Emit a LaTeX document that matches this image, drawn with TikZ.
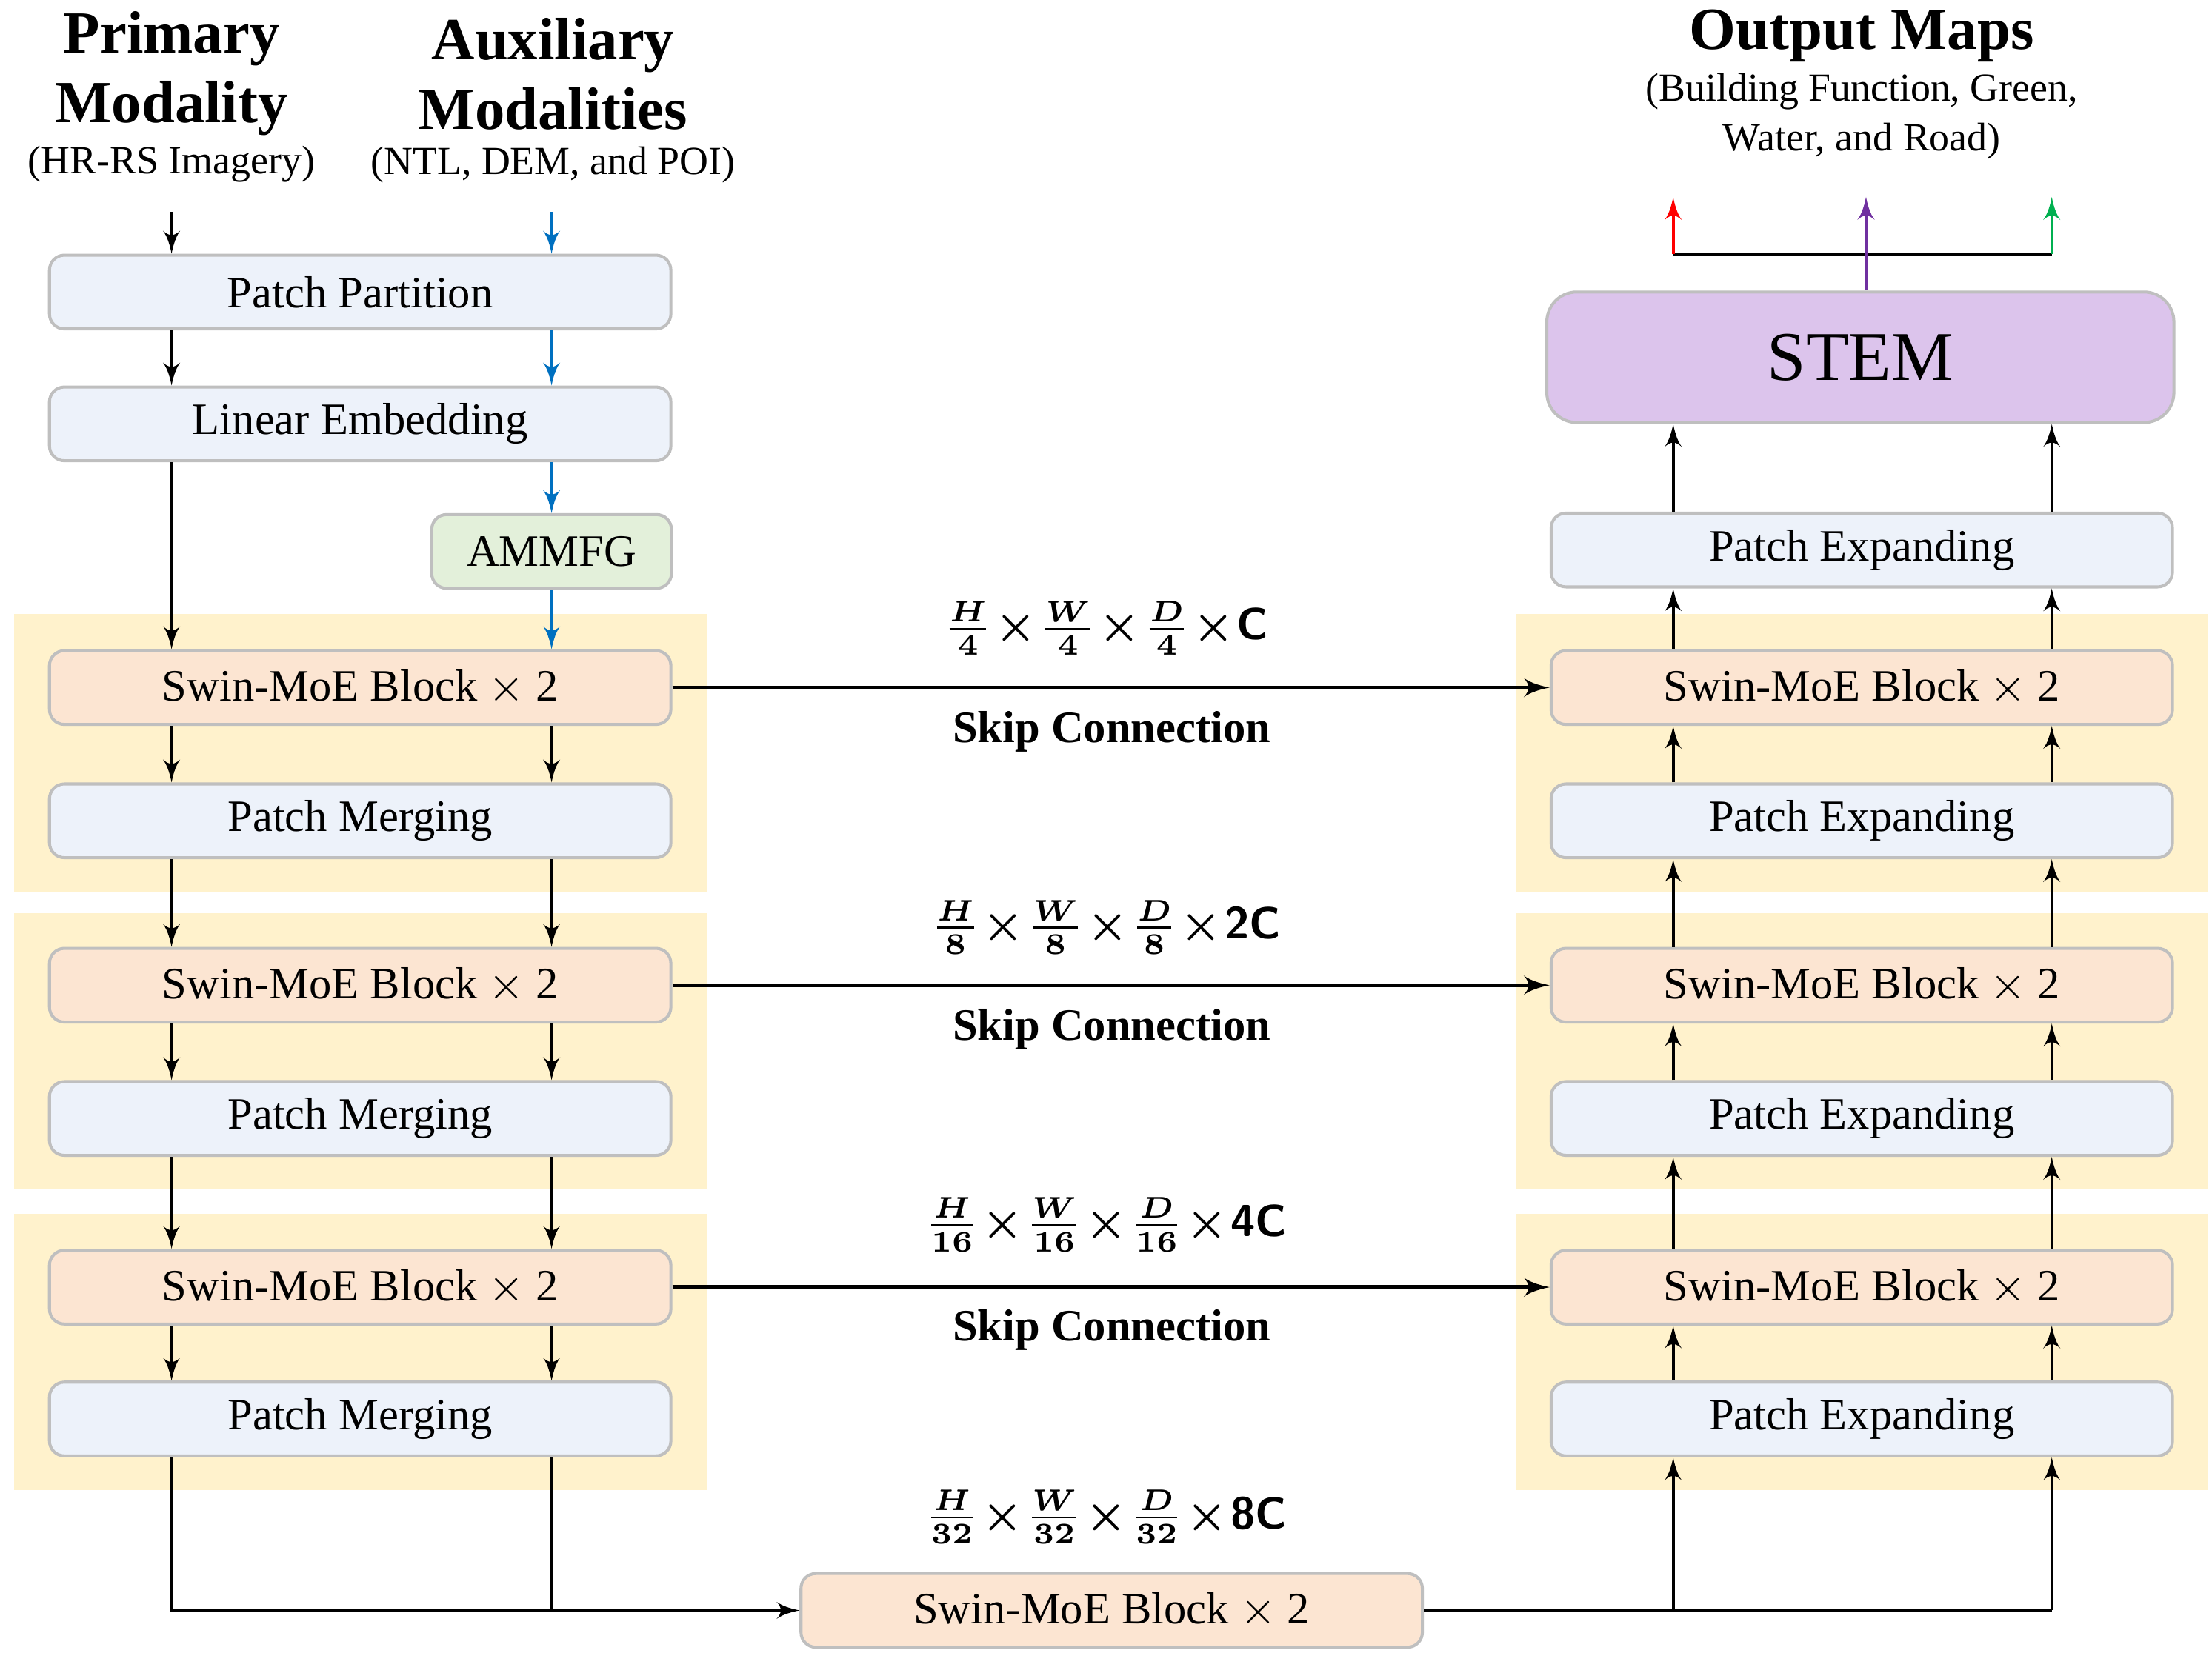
\documentclass[tikz,border=0pt]{standalone}
\usepackage{fontspec}
\setmainfont{Liberation Serif}
\usepackage{amsmath}
\usepackage{bm}
\usetikzlibrary{arrows}
\definecolor{boxblue}{HTML}{EDF2FA}
\definecolor{boxorange}{HTML}{FCE5D2}
\definecolor{boxgreen}{HTML}{E3F0DA}
\definecolor{boxpurple}{HTML}{DCC4EC}
\definecolor{band}{HTML}{FFF2CC}
\definecolor{auxblue}{HTML}{0070C0}
\definecolor{outred}{HTML}{FF0000}
\definecolor{outpurple}{HTML}{7030A0}
\definecolor{outgreen}{HTML}{00B050}
\newcommand{\tm}{\!\bm\times\!}
\begin{document}
\begin{tikzpicture}[
		x=0.01cm, y=-0.01cm,
		blk/.style={draw=black!25, rounded corners=3pt, minimum width=4.38cm, minimum height=0.52cm, inner sep=0pt, font=\fontsize{9}{11}\selectfont},
		pb/.style={blk, fill=boxblue},
		sw/.style={blk, fill=boxorange},
		ttl/.style={font=\fontsize{12}{14}\selectfont\bfseries, align=center},
		sub/.style={font=\fontsize{8}{10}\selectfont, align=center},
		dim/.style={font=\fontsize{9}{10}\selectfont\boldmath},
		skp/.style={font=\fontsize{9}{11}\selectfont\bfseries},
		>=latex', semithick]
	%% frame and bands
	\useasboundingbox (0,0) rectangle (1560,1166);
	\foreach \ya/\yb in {433/629, 644/839, 856/1051} {
		\fill[band] (10,\ya) rectangle (499,\yb);
		\fill[band] (1069,\ya) rectangle (1557,\yb);
	}
	%% column coordinates
	\coordinate (cA) at (121,0);
	\coordinate (cB) at (389,0);
	\coordinate (cC) at (1180,0);
	\coordinate (cD) at (1447,0);
	%% titles
	\node[ttl] (tprim) at (121,52) {Primary\\Modality};
	\node[sub] (sprim) at (121,116) {(HR-RS Imagery)};
	\node[ttl] (taux) at (390,52) {Auxiliary\\Modalities};
	\node[sub] (saux) at (390,116) {(NTL, DEM, and POI)};
	\node[ttl] (tout) at (1313,25) {Output Maps};
	\node[sub] (sout) at (1313,82) {(Building Function, Green,\\Water, and Road)};
	%% encoder
	\node[pb] (pp) at (254,206) {Patch Partition};
	\node[pb] (le) at (254,299) {Linear Embedding};
	\node[blk, fill=boxgreen, minimum width=1.69cm] (am) at (389,389) {AMMFG};
	\node[sw] (e1) at (254,485) {Swin-MoE Block $\times$ 2};
	\node[pb] (m1) at (254,579) {Patch Merging};
	\node[sw] (e2) at (254,695) {Swin-MoE Block $\times$ 2};
	\node[pb] (m2) at (254,789) {Patch Merging};
	\node[sw] (e3) at (254,908) {Swin-MoE Block $\times$ 2};
	\node[pb] (m3) at (254,1001) {Patch Merging};
	%% bottleneck
	\node[sw] (bn) at (784,1136) {Swin-MoE Block $\times$ 2};
	%% decoder
	\node[blk, fill=boxpurple, minimum width=4.42cm, minimum height=0.92cm, rounded corners=6pt, font=\fontsize{14}{16}\selectfont] (stem) at (1312,252) {STEM};
	\node[pb] (x0) at (1313,388) {Patch Expanding};
	\node[sw] (d1) at (1313,485) {Swin-MoE Block $\times$ 2};
	\node[pb] (x1) at (1313,579) {Patch Expanding};
	\node[sw] (d2) at (1313,695) {Swin-MoE Block $\times$ 2};
	\node[pb] (x2) at (1313,789) {Patch Expanding};
	\node[sw] (d3) at (1313,908) {Swin-MoE Block $\times$ 2};
	\node[pb] (x3) at (1313,1001) {Patch Expanding};
	%% primary stream
	\draw[->] (sprim.south -| cA) ++(0,8) -- (pp.north -| cA);
	\foreach \a/\b in {pp/le, le/e1, e1/m1, m1/e2, e2/m2, m2/e3, e3/m3}
		\draw[->] (\a.south -| cA) -- (\b.north -| cA);
	%% auxiliary stream
	\draw[->, auxblue] (saux.south -| cB) ++(0,8) -- (pp.north -| cB);
	\foreach \a/\b in {pp/le, le/am, am/e1}
		\draw[->, auxblue] (\a.south -| cB) -- (\b.north -| cB);
	\foreach \a/\b in {e1/m1, m1/e2, e2/m2, m2/e3, e3/m3}
		\draw[->] (\a.south -| cB) -- (\b.north -| cB);
	%% into bottleneck
	\coordinate (jA) at (121,1136);
	\coordinate (jB) at (389,1136);
	\draw (m3.south -| cA) -- (jA) -- (jB);
	\draw (m3.south -| cB) -- (jB);
	\draw[->] (jB) -- (bn.west);
	\coordinate (jD) at (1447,1136);
	\draw (bn.east) -- (jD);
	\draw[->] (bn.east -| cC) -- (x3.south -| cC);
	\draw[->] (jD) -- (x3.south -| cD);
	%% decoder stream
	\foreach \a/\b in {x3/d3, d3/x2, x2/d2, d2/x1, x1/d1, d1/x0, x0/stem} {
		\draw[->] (\a.north -| cC) -- (\b.south -| cC);
		\draw[->] (\a.north -| cD) -- (\b.south -| cD);
	}
	%% outputs
	\coordinate (oA) at (1180,179);
	\coordinate (oD) at (1447,179);
	\coordinate (oM) at (1316,179);
	\draw (oA) -- (oD);
	\draw[->, outred] (oA) -- ++(0,-40);
	\draw[->, outgreen] (oD) -- ++(0,-40);
	\draw[->, outpurple] (stem.north -| oM) -- ++(0,-66);
	%% skip connections
	\draw[->, thick] (e1.east) -- (d1.west);
	\draw[->, thick] (e2.east) -- (d2.west);
	\draw[->, thick] (e3.east) -- (d3.west);
	\node[dim] (s1) at (780,443) {$\frac{H}{4}\tm\frac{W}{4}\tm\frac{D}{4}\tm\mathsf{C}$};
	\node[dim] (s2) at (780,654) {$\frac{H}{8}\tm\frac{W}{8}\tm\frac{D}{8}\tm\mathsf{2C}$};
	\node[dim] (s3) at (780,864) {$\frac{H}{16}\tm\frac{W}{16}\tm\frac{D}{16}\tm\mathsf{4C}$};
	\node[dim] (s4) at (780,1070) {$\frac{H}{32}\tm\frac{W}{32}\tm\frac{D}{32}\tm\mathsf{8C}$};
	\node[skp] (k1) at (784,516) {Skip Connection};
	\node[skp] (k2) at (784,726) {Skip Connection};
	\node[skp] (k3) at (784,938) {Skip Connection};
\end{tikzpicture}
\end{document}
